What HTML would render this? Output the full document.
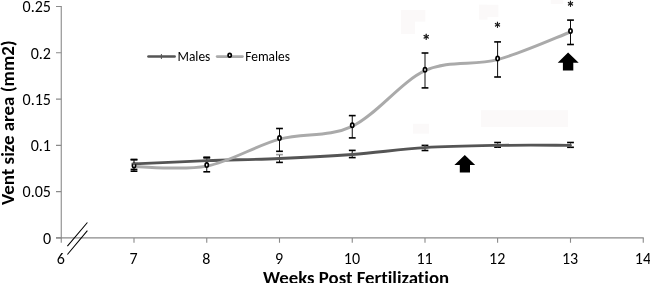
<!DOCTYPE html>
<html><head><meta charset="utf-8"><style>
html,body{margin:0;padding:0;background:#fff;width:650px;height:283px;overflow:hidden}
svg{display:block}
text{fill:#000;font-variant-ligatures:none;font-feature-settings:'liga' 0,'clig' 0}
</style></head><body>
<svg width="650" height="283" viewBox="0 0 650 283" font-family="Carlito, 'Liberation Sans', sans-serif">
<rect width="650" height="283" fill="#fff"/>
<rect x="401" y="10" width="24.3" height="11.7" fill="#fbf9f9"/>
<rect x="401" y="10" width="14" height="24" fill="#fbf9f9"/>
<rect x="479" y="4.8" width="19.4" height="12.2" fill="#fbf9f9"/>
<rect x="479" y="4.8" width="8.5" height="14.8" fill="#fbf9f9"/>
<rect x="550.8" y="0" width="12.4" height="4" fill="#fbf9f9"/>
<rect x="413" y="123.8" width="16" height="9.8" fill="#fbf9f9"/>
<rect x="481" y="110.2" width="87" height="16.9" fill="#fbf9f9"/>
<path d="M61.25,6V238.5" stroke="#8a8a8a" stroke-width="1.1" fill="none"/>
<path d="M56,237.9H643.8" stroke="#8a8a8a" stroke-width="1.2" fill="none"/>
<path d="M56,237.90H61.25M56,191.63H61.25M56,145.36H61.25M56,99.09H61.25M56,52.82H61.25M56,6.55H61.25M61.25,237.9V242.8M134.00,237.9V242.8M206.75,237.9V242.8M279.50,237.9V242.8M352.25,237.9V242.8M425.00,237.9V242.8M497.60,237.9V242.8M570.50,237.9V242.8M643.25,237.9V242.8" stroke="#8a8a8a" stroke-width="1.1" fill="none"/>
<text x="51" y="243.6" font-size="16" text-anchor="end" textLength="8.11" lengthAdjust="spacingAndGlyphs">0</text>
<text x="51" y="197.3" font-size="16" text-anchor="end" textLength="28.38" lengthAdjust="spacingAndGlyphs">0.05</text>
<text x="51" y="151.1" font-size="16" text-anchor="end" textLength="20.27" lengthAdjust="spacingAndGlyphs">0.1</text>
<text x="51" y="104.8" font-size="16" text-anchor="end" textLength="28.38" lengthAdjust="spacingAndGlyphs">0.15</text>
<text x="51" y="58.5" font-size="16" text-anchor="end" textLength="20.27" lengthAdjust="spacingAndGlyphs">0.2</text>
<text x="51" y="12.3" font-size="16" text-anchor="end" textLength="28.38" lengthAdjust="spacingAndGlyphs">0.25</text>
<text x="60.9" y="263.6" font-size="16" text-anchor="middle" textLength="8.11" lengthAdjust="spacingAndGlyphs">6</text>
<text x="133.6" y="263.6" font-size="16" text-anchor="middle" textLength="8.11" lengthAdjust="spacingAndGlyphs">7</text>
<text x="206.3" y="263.6" font-size="16" text-anchor="middle" textLength="8.11" lengthAdjust="spacingAndGlyphs">8</text>
<text x="279.1" y="263.6" font-size="16" text-anchor="middle" textLength="8.11" lengthAdjust="spacingAndGlyphs">9</text>
<text x="351.9" y="263.6" font-size="16" text-anchor="middle" textLength="16.22" lengthAdjust="spacingAndGlyphs">10</text>
<text x="424.6" y="263.6" font-size="16" text-anchor="middle" textLength="16.22" lengthAdjust="spacingAndGlyphs">11</text>
<text x="497.2" y="263.6" font-size="16" text-anchor="middle" textLength="16.22" lengthAdjust="spacingAndGlyphs">12</text>
<text x="570.1" y="263.6" font-size="16" text-anchor="middle" textLength="16.22" lengthAdjust="spacingAndGlyphs">13</text>
<text x="642.9" y="263.6" font-size="16" text-anchor="middle" textLength="16.22" lengthAdjust="spacingAndGlyphs">14</text>
<path d="M67.4,246.1L87.4,222.5M67.4,254.5L87.4,230.6" stroke="#000" stroke-width="1.05" fill="none"/>
<text x="263" y="283.6" font-size="18.8" font-weight="bold" textLength="186.14" lengthAdjust="spacingAndGlyphs">Weeks Post Fertilization</text>
<text transform="translate(13.7,204.9) rotate(-90)" font-size="18.9" font-weight="bold" textLength="164.63" lengthAdjust="spacingAndGlyphs">Vent size area (mm2)</text>
<path d="M130.60,159.70H137.40" stroke="#000" stroke-width="1.6"/><path d="M130.60,169.40H137.40" stroke="#000" stroke-width="1.6"/>
<path d="M203.35,157.90H210.15" stroke="#000" stroke-width="1.6"/><path d="M203.35,161.20H210.15" stroke="#000" stroke-width="1.6"/>
<path d="M279.50,154.60V162.40" stroke="#000" stroke-width="0.95"/><path d="M276.10,154.60H282.90" stroke="#9a9a9a" stroke-width="1.6"/><path d="M276.10,162.40H282.90" stroke="#000" stroke-width="1.6"/>
<path d="M352.25,150.40V157.60" stroke="#000" stroke-width="0.95"/><path d="M348.85,150.40H355.65" stroke="#000" stroke-width="1.6"/><path d="M348.85,157.60H355.65" stroke="#000" stroke-width="1.6"/>
<path d="M425.00,145.40V150.50" stroke="#000" stroke-width="0.95"/><path d="M421.60,145.40H428.40" stroke="#000" stroke-width="1.6"/><path d="M421.60,150.50H428.40" stroke="#000" stroke-width="1.6"/>
<path d="M497.60,142.50V147.20" stroke="#000" stroke-width="0.95"/><path d="M494.20,142.50H501.00" stroke="#000" stroke-width="1.6"/><path d="M494.20,147.20H501.00" stroke="#000" stroke-width="1.6"/>
<path d="M570.50,142.50V147.30" stroke="#000" stroke-width="0.95"/><path d="M567.10,142.50H573.90" stroke="#000" stroke-width="1.6"/><path d="M567.10,147.30H573.90" stroke="#000" stroke-width="1.6"/>

<path d="M134.00,159.50V171.20" stroke="#000" stroke-width="0.95"/><path d="M130.60,159.50H137.40" stroke="#000" stroke-width="1.6"/><path d="M130.60,171.20H137.40" stroke="#000" stroke-width="1.6"/>
<path d="M206.75,157.20V171.80" stroke="#000" stroke-width="0.95"/><path d="M203.35,157.20H210.15" stroke="#000" stroke-width="1.6"/><path d="M203.35,171.80H210.15" stroke="#000" stroke-width="1.6"/>
<path d="M279.50,128.50V151.30" stroke="#000" stroke-width="0.95"/><path d="M276.10,128.50H282.90" stroke="#000" stroke-width="1.6"/><path d="M276.10,151.30H282.90" stroke="#000" stroke-width="1.6"/>
<path d="M352.25,115.60V137.90" stroke="#000" stroke-width="0.95"/><path d="M348.85,115.60H355.65" stroke="#000" stroke-width="1.6"/><path d="M348.85,137.90H355.65" stroke="#000" stroke-width="1.6"/>
<path d="M425.00,53.00V87.90" stroke="#000" stroke-width="0.95"/><path d="M421.60,53.00H428.40" stroke="#000" stroke-width="1.6"/><path d="M421.60,87.90H428.40" stroke="#000" stroke-width="1.6"/>
<path d="M497.60,41.90V77.00" stroke="#000" stroke-width="0.95"/><path d="M494.20,41.90H501.00" stroke="#000" stroke-width="1.6"/><path d="M494.20,77.00H501.00" stroke="#000" stroke-width="1.6"/>
<path d="M570.50,20.10V44.50" stroke="#000" stroke-width="0.95"/><path d="M567.10,20.10H573.90" stroke="#000" stroke-width="1.6"/><path d="M567.10,44.50H573.90" stroke="#000" stroke-width="1.6"/>

<path d="M134.00,163.80 C146.12,163.28 182.50,161.58 206.75,160.70 C231.00,159.82 255.25,159.53 279.50,158.50 C303.75,157.47 328.00,156.32 352.25,154.50 C376.50,152.68 400.77,149.12 425.00,147.60 C449.23,146.08 473.35,145.78 497.60,145.40 C521.85,145.02 558.35,145.32 570.50,145.30" stroke="#555" stroke-width="2.8" fill="none" stroke-linecap="round"/>
<path d="M134.00,161.40V165.80" stroke="#555" stroke-width="1"/>
<path d="M206.75,158.30V162.70" stroke="#555" stroke-width="1"/>
<path d="M279.50,156.10V160.50" stroke="#555" stroke-width="1"/>
<path d="M352.25,152.10V156.50" stroke="#555" stroke-width="1"/>
<path d="M425.00,145.20V149.60" stroke="#555" stroke-width="1"/>
<path d="M497.60,143.00V147.40" stroke="#555" stroke-width="1"/>
<path d="M570.50,142.90V147.30" stroke="#555" stroke-width="1"/>
<path d="M134.00,166.60 C146.12,166.52 182.50,170.68 206.75,166.10 C231.00,161.52 255.25,145.73 279.50,139.10 C303.75,132.47 328.00,137.70 352.25,126.30 C376.50,114.90 400.77,81.82 425.00,70.70 C449.23,59.58 473.35,66.05 497.60,59.60 C521.85,53.15 558.35,36.60 570.50,32.00" stroke="#aaaaaa" stroke-width="3" fill="none" stroke-linecap="round"/>
<ellipse cx="134.00" cy="165.60" rx="1.6" ry="2.15" fill="#fff" stroke="#000" stroke-width="1.7"/>
<ellipse cx="206.75" cy="165.10" rx="1.6" ry="2.15" fill="#fff" stroke="#000" stroke-width="1.7"/>
<ellipse cx="279.50" cy="138.10" rx="1.6" ry="2.15" fill="#fff" stroke="#000" stroke-width="1.7"/>
<ellipse cx="352.25" cy="125.30" rx="1.6" ry="2.15" fill="#fff" stroke="#000" stroke-width="1.7"/>
<ellipse cx="425.00" cy="69.70" rx="1.6" ry="2.15" fill="#fff" stroke="#000" stroke-width="1.7"/>
<ellipse cx="497.60" cy="58.60" rx="1.6" ry="2.15" fill="#fff" stroke="#000" stroke-width="1.7"/>
<ellipse cx="570.50" cy="31.00" rx="1.6" ry="2.15" fill="#fff" stroke="#000" stroke-width="1.7"/>
<path d="M131.6,163.5H138" stroke="#555" stroke-width="1.6"/>
<text x="426.3" y="47" font-size="18" text-anchor="middle" stroke="#000" stroke-width="0.35">*</text>
<text x="497.5" y="35.2" font-size="18" text-anchor="middle" stroke="#000" stroke-width="0.35">*</text>
<text x="570.6" y="13.9" font-size="18" text-anchor="middle" stroke="#000" stroke-width="0.35">*</text>
<path d="M568.1,52.5L578.7,62.8H573.3V70.6H562.9V62.8H557.7Z" fill="#000"/>
<path d="M464.8,154.9L475.2,165H470V172.6H459.8V165H454.4Z" fill="#000"/>
<path d="M148.5,56.5H174.6" stroke="#555" stroke-width="2.7" stroke-linecap="round"/>
<path d="M161.4,54V59" stroke="#555" stroke-width="1"/>
<text x="177.5" y="60.8" font-size="13.4" textLength="32.84" lengthAdjust="spacingAndGlyphs">Males</text>
<path d="M217.2,56.6H242.4" stroke="#aaaaaa" stroke-width="2.8" stroke-linecap="round"/>
<ellipse cx="229.7" cy="55.2" rx="1.6" ry="1.9" fill="#fff" stroke="#000" stroke-width="1.7"/>
<text x="245.3" y="60.8" font-size="13.4" textLength="44.70" lengthAdjust="spacingAndGlyphs">Females</text>
</svg>
</body></html>
